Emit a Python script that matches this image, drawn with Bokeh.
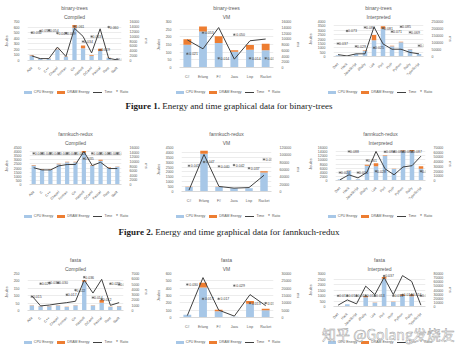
import math
from bokeh.plotting import figure
from bokeh.models import (Range1d, LinearAxis, SingleIntervalTicker,
                          ColumnDataSource, Title, Div, NumeralTickFormatter)
from bokeh.layouts import column, row
from bokeh.transform import dodge
from bokeh.core.properties import value
from bokeh.embed import file_html
from bokeh.resources import INLINE

# ---------------- data ----------------
compiled_langs = ["Ada", "C", "C++", "Chapel", "Fortran", "Go", "Haskell", "OCaml", "Pascal", "Rust", "Swift"]
vm_langs = ["C#", "Erlang", "F#", "Java", "Lisp", "Racket"]
interp_langs = ["Dart", "Hack", "JavaScript", "JRuby", "Lua", "Perl", "PHP", "Python", "Ruby", "TypeScript"]
legend_labels = ["CPU Energy", "DRAM Energy", "Time", "Ratio"]
watermark_text = "知乎 @Golang发烧友"

# binary-trees
bt_comp_cpu = [90, 38, 33, 200, 68, 590, 220, 85, 170, 45, 30]
bt_comp_dram = [8, 4, 4, 12, 6, 45, 50, 15, 40, 5, 3]
bt_comp_time = [1900, 770, 770, 5500, 1650, 13200, 9900, 3100, 13000, 880, 250]
bt_comp_ratio = [0.050, 0.053, 0.054, 0.049, 0.049, 0.061, 0.034, 0.043, 0.019, 0.060, 0.002]

bt_vm_cpu = [149, 234, 160, 103, 116, 112]
bt_vm_dram = [35, 33, 43, 10, 31, 43]
bt_vm_time = [9600, 6500, 13900, 2900, 9300, 9900]
bt_vm_ratio = [0.021, 0.053, 0.014, 0.050, 0.014, 0.014]

bt_int_cpu = [140, 55, 280, 640, 1850, 3170, 1180, 1640, 830, 280]
bt_int_dram = [10, 5, 20, 40, 600, 280, 50, 50, 30, 20]
bt_int_time = [13500, 4000, 19000, 19000, 211000, 90000, 52000, 52000, 29000, 19000]
bt_int_ratio = [0.037, 0.073, 0.029, 0.083, 0.025, 0.081, 0.071, 0.085, 0.069, 0.031]

# fannkuch-redux
fk_comp_cpu = [2300, 1820, 1820, 2470, 2700, 2700, 3850, 2300, 2900, 2050, 2150]
fk_comp_dram = [65, 50, 50, 60, 60, 60, 220, 65, 120, 50, 50]
fk_comp_time = [7240, 6300, 6300, 8060, 8640, 8640, 14250, 8200, 9600, 6900, 6900]
fk_comp_ratio = [0.042, 0.042, 0.042, 0.042, 0.042, 0.042, 0.035, 0.042, 0.042, 0.042, 0.042]

fk_vm_cpu = [470, 3870, 470, 330, 330, 1950]
fk_vm_dram = [20, 290, 20, 10, 10, 110]
fk_vm_time = [3800, 101000, 13700, 9200, 10700, 44300]
fk_vm_ratio = [0.041, 0.047, 0.040, 0.042, 0.037, 0.051]

fk_int_cpu = [600, 4800, 600, 7200, 6900, 12000, 5600, 14200, 14200, 5700]
fk_int_dram = [30, 200, 30, 400, 1500, 200, 100, 400, 600, 1260]
fk_int_time = [1650, 12100, 5500, 17600, 61700, 24800, 12100, 28700, 31400, 51800]
fk_int_ratio = [0.024, 0.088, 0.024, 0.061, 0.028, 0.087, 0.087, 0.087, 0.087, 0.028]

# fasta
fa_comp_cpu = [33, 28, 28, 33, 24, 33, 195, 33, 53, 24, 29]
fa_comp_dram = [2, 2, 2, 2, 2, 2, 9, 2, 18, 2, 2]
fa_comp_time = [2780, 875, 1030, 1290, 1490, 1750, 5760, 3300, 5900, 980, 1490]
fa_comp_ratio = [0.015, 0.029, 0.030, 0.030, 0.017, 0.022, 0.036, 0.014, 0.012, 0.029, 0.028]

fa_vm_cpu = [36, 410, 86, 10, 188, 100]
fa_vm_dram = [2, 65, 19, 1, 37, 19]
fa_vm_time = [1300, 27200, 5060, 940, 15600, 8060]
fa_vm_ratio = [0.030, 0.017, 0.017, 0.029, 0.013, 0.013]

fa_int_cpu = [45, 200, 45, 840, 340, 2520, 410, 960, 940, 45]
fa_int_dram = [5, 15, 5, 120, 20, 170, 20, 120, 140, 5]
fa_int_time = [3200, 16000, 6400, 49300, 28800, 70400, 28800, 74900, 60800, 3200]
fa_int_ratio = [0.013, 0.013, 0.013, 0.013, 0.013, 0.037, 0.013, 0.014, 0.014, 0.013]

# ---------------- style ----------------
BLUE = "#A7C7E7"
ORANGE = "#ED7D31"
DARK = "#404040"
GRAY = "#595959"
FONT = "Liberation Sans"
W = 152
LEG_H = 9


def style_axis(ax):
    ax.axis_line_color = None
    ax.major_tick_line_color = None
    ax.minor_tick_line_color = None
    ax.major_label_text_font_size = "3.5px"
    ax.major_label_text_color = GRAY
    ax.major_label_text_font = FONT
    ax.major_label_standoff = 2
    ax.axis_label_text_font_size = "4px"
    ax.axis_label_text_font_style = "normal"
    ax.axis_label_text_color = GRAY
    ax.axis_label_text_font = FONT
    ax.axis_label_standoff = 2


def legend_div(overlay=""):
    sw = "display:inline-block;vertical-align:middle;margin-right:2px;"
    parts = [
        f'<span style="{sw}width:8px;height:3px;background:{BLUE}"></span>{legend_labels[0]}',
        f'<span style="{sw}width:8px;height:3px;background:{ORANGE}"></span>{legend_labels[1]}',
        f'<span style="{sw}width:9px;height:1px;background:{DARK}"></span>{legend_labels[2]}',
        f'<span style="{sw}font-size:5px;line-height:3px;color:{GRAY}">*</span>{legend_labels[3]}',
    ]
    html = ('<div style="position:relative;width:%dpx;height:%dpx;text-align:center;white-space:nowrap;'
            'font-family:\'Liberation Sans\';font-size:3.5px;line-height:%dpx;color:%s;padding-left:6px">%s%s</div>'
            % (W - 6, LEG_H, LEG_H, GRAY, "&nbsp;&nbsp;&nbsp;&nbsp;".join(parts), overlay))
    return Div(text=html, width=W, height=LEG_H, margin=0,
               styles={"margin": "0", "padding": "0", "overflow": "visible"})


def make_chart(name, kind, cats, cpu, dram, time, ratio, ymax, ystep, tmax, tstep, rmax, rotate, h, top):
    src = ColumnDataSource(dict(cat=cats, cpu=cpu, dram=dram, time=time, ratio=ratio,
                                rl=[f"{r:.3f}" for r in ratio]))
    p = figure(x_range=cats, y_range=Range1d(0, ymax), width=W, height=h - LEG_H,
               output_backend="svg", toolbar_location=None, margin=0,
               min_border_left=20, min_border_right=18, min_border_top=top, min_border_bottom=4)
    p.outline_line_color = None
    p.title.text = name
    p.title.align = "center"
    p.title.text_font_size = "5px"
    p.title.text_font_style = "normal"
    p.title.text_color = GRAY
    p.title.text_font = FONT
    p.title.standoff = 0
    p.add_layout(Title(text=kind, align="center", text_font_size="5px", text_font_style="normal",
                       text_color=GRAY, text_font=FONT, standoff=3), "above")
    p.extra_y_ranges = {"time": Range1d(0, tmax), "ratio": Range1d(0, rmax)}

    p.vbar_stack(["cpu", "dram"], x="cat", width=0.5, color=[BLUE, ORANGE],
                 line_color=None, source=src)
    p.line("cat", "time", source=src, y_range_name="time", line_color=DARK, line_width=1)
    p.scatter("cat", "ratio", source=src, y_range_name="ratio", marker="asterisk",
              size=2.5, line_color=GRAY, line_width=0.6)
    p.text(x=dodge("cat", 0.12, range=p.x_range), y="ratio", text="rl", source=src,
           y_range_name="ratio", text_font_size="3.5px", text_baseline="middle",
           text_color=DARK, text_font=value(FONT))

    p.xgrid.grid_line_color = None
    p.ygrid.grid_line_color = "#D9D9D9"
    p.ygrid.grid_line_width = 0.5
    p.ygrid.ticker = SingleIntervalTicker(interval=ystep, num_minor_ticks=0)

    yax = p.yaxis[0]
    yax.ticker = SingleIntervalTicker(interval=ystep, num_minor_ticks=0)
    yax.formatter = NumeralTickFormatter(format="0")
    yax.axis_label = "Joules"
    style_axis(yax)

    rax = LinearAxis(y_range_name="time", ticker=SingleIntervalTicker(interval=tstep, num_minor_ticks=0),
                     formatter=NumeralTickFormatter(format="0"), axis_label="ms")
    style_axis(rax)
    p.add_layout(rax, "right")

    xax = p.xaxis[0]
    style_axis(xax)
    xax.axis_line_color = "#D9D9D9"
    xax.major_label_standoff = 1
    if rotate:
        xax.major_label_orientation = math.pi / 4
    return p


H1, H2, H3 = 90, 92, 100
T1, T2, T3 = 21, 25, 33

c1 = make_chart("binary-trees", "Compiled", compiled_langs, bt_comp_cpu, bt_comp_dram, bt_comp_time,
                bt_comp_ratio, 700, 100, 16000, 2000, 0.07, True, H1, T1)
c2 = make_chart("binary-trees", "VM", vm_langs, bt_vm_cpu, bt_vm_dram, bt_vm_time,
                bt_vm_ratio, 300, 50, 16000, 2000, 0.07, False, H1, T1)
c3 = make_chart("binary-trees", "Interpreted", interp_langs, bt_int_cpu, bt_int_dram, bt_int_time,
                bt_int_ratio, 4000, 500, 250000, 50000, 0.1, True, H1, T1)

c4 = make_chart("fannkuch-redux", "Compiled", compiled_langs, fk_comp_cpu, fk_comp_dram, fk_comp_time,
                fk_comp_ratio, 4500, 500, 16000, 2000, 0.05, True, H2, T2)
c5 = make_chart("fannkuch-redux", "VM", vm_langs, fk_vm_cpu, fk_vm_dram, fk_vm_time,
                fk_vm_ratio, 4500, 500, 120000, 20000, 0.07, False, H2, T2)
c6 = make_chart("fannkuch-redux", "Interpreted", interp_langs, fk_int_cpu, fk_int_dram, fk_int_time,
                fk_int_ratio, 16000, 2000, 70000, 10000, 0.1, True, H2, T2)

c7 = make_chart("fasta", "Compiled", compiled_langs, fa_comp_cpu, fa_comp_dram, fa_comp_time,
                fa_comp_ratio, 250, 50, 7000, 1000, 0.04, True, H3, T3)
c8 = make_chart("fasta", "VM", vm_langs, fa_vm_cpu, fa_vm_dram, fa_vm_time,
                fa_vm_ratio, 600, 100, 30000, 5000, 0.04, False, H3, T3)
c9 = make_chart("fasta", "Interpreted", interp_langs, fa_int_cpu, fa_int_dram, fa_int_time,
                fa_int_ratio, 3000, 500, 80000, 10000, 0.04, True, H3, T3)

watermark = ('<span style="position:absolute;left:18px;top:-11px;font-family:\'Noto Sans CJK SC\';'
             'font-size:14px;line-height:14px;color:#ffffff;'
             '-webkit-text-stroke:0.45px #9a9a9a;white-space:nowrap">%s</span>' % watermark_text)


def caption(num, name, h, pad):
    html = ('<div style="padding-top:%dpx;width:458px;text-align:center;font-family:\'Liberation Serif\',serif;'
            'font-size:9px;line-height:11px;color:#1a1a1a"><b>Figure %d.</b> Energy and time graphical data for %s</div>'
            % (pad, num, name))
    return Div(text=html, width=458, height=h, margin=0, styles={"margin": "0", "padding": "0"})


def cell(p, overlay=""):
    return column(p, legend_div(overlay), spacing=0)


layout = column(row(cell(c1), cell(c2), cell(c3)), caption(1, "binary-trees", 32, 11),
                row(cell(c4), cell(c5), cell(c6)), caption(2, "fannkuch-redux", 26, 13),
                row(cell(c7), cell(c8), cell(c9, watermark)))

open("out.html", "w").write(file_html(layout, INLINE))
